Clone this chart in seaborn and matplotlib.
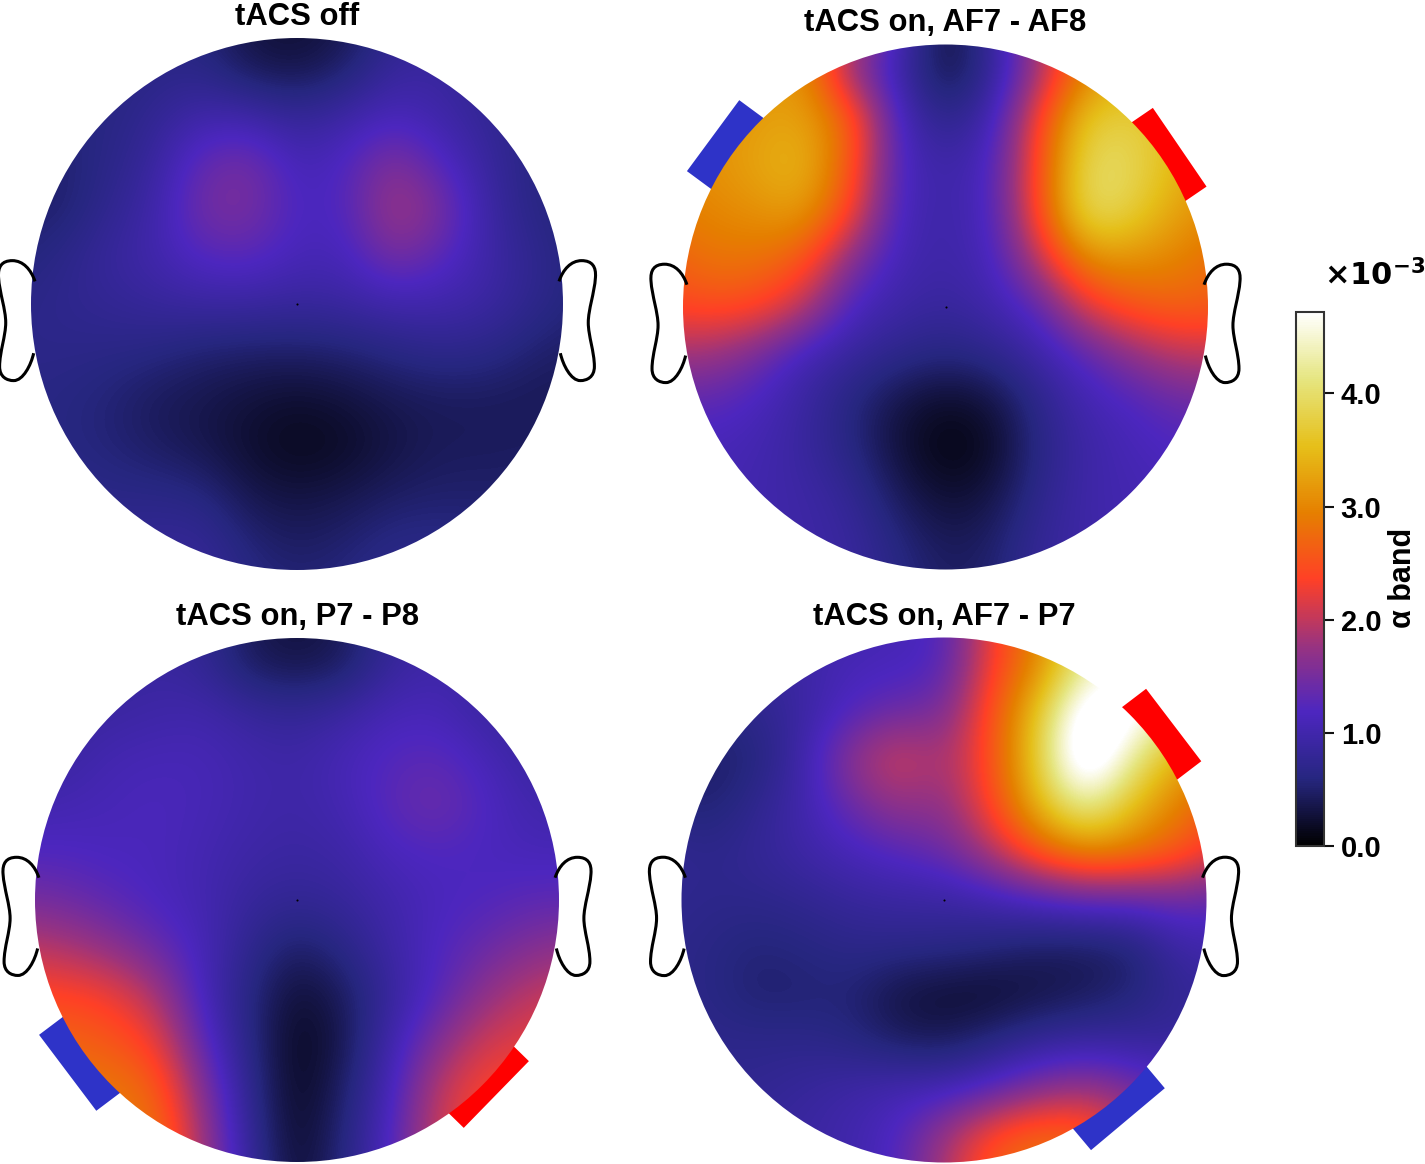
import matplotlib
matplotlib.use("Agg")
import numpy as np
import seaborn as sns
import matplotlib.pyplot as plt
from matplotlib.patches import Circle, PathPatch, Rectangle
from matplotlib.path import Path
from matplotlib.transforms import Affine2D

# alpha band power, units of 1e-3, rows run front to back of the head
tacs_off = [
    [.60, .60, .60, .65, .60, .30, .25, .35, .70, .75, .70, .60, .60],
    [.60, .60, .60, .65, .65, .35, .28, .45, .85, .90, .75, .65, .60],
    [.55, .60, .62, .75, .95, .90, .75, .90, 1.1, .95, .78, .65, .60],
    [.50, .50, .65, .85, 1.35, 1.5, 1.05, 1.2, 1.6, 1.2, .85, .62, .55],
    [.50, .48, .72, .95, 1.5, 1.55, 1.15, 1.2, 1.85, 1.55, .90, .62, .55],
    [.55, .65, .85, 1.0, 1.25, 1.3, 1.1, 1.1, 1.55, 1.3, .95, .72, .55],
    [.65, .72, .78, .85, .90, .90, .85, .90, 1.0, 1.0, .92, .70, .55],
    [.68, .68, .66, .62, .52, .48, .48, .52, .62, .70, .66, .50, .45],
    [.65, .62, .55, .42, .36, .28, .22, .28, .38, .42, .42, .40, .40],
    [.65, .62, .56, .46, .36, .22, .12, .18, .32, .42, .42, .45, .45],
    [.70, .70, .66, .66, .62, .36, .30, .36, .46, .50, .50, .50, .50],
    [.75, .75, .75, .80, .82, .55, .45, .52, .66, .66, .60, .55, .55],
    [.75, .75, .75, .80, .85, .65, .55, .62, .72, .66, .60, .55, .55],
]
tacs_af7_af8 = [
    [3.0, 3.0, 3.0, 3.0, 2.2, 1.2, .22, .85, 2.0, 3.0, 3.3, 3.3, 3.2],
    [3.0, 3.0, 3.1, 3.2, 1.6, .95, .25, .75, 1.8, 3.0, 3.4, 3.4, 3.3],
    [3.0, 3.1, 3.2, 3.3, 2.7, 1.1, .65, 1.0, 2.4, 3.7, 3.75, 3.5, 3.3],
    [3.0, 3.1, 3.3, 3.5, 2.6, 1.15, .95, 1.15, 2.5, 4.0, 3.9, 3.4, 3.2],
    [2.9, 3.0, 3.1, 3.25, 2.4, 1.1, .95, 1.15, 2.5, 4.05, 3.75, 3.2, 3.0],
    [2.6, 2.85, 2.85, 2.6, 1.6, 1.05, .95, 1.1, 2.0, 3.1, 3.1, 2.95, 2.7],
    [2.4, 2.5, 2.45, 2.0, 1.15, .95, .85, 1.0, 1.3, 2.2, 2.6, 2.7, 2.6],
    [1.8, 1.8, 1.5, 1.05, .85, .70, .60, .70, .95, 1.3, 1.7, 2.0, 2.0],
    [1.3, 1.3, 1.15, .90, .60, .32, .18, .28, .70, 1.05, 1.2, 1.4, 1.4],
    [1.1, 1.1, 1.05, .88, .62, .26, .06, .16, .65, .95, 1.1, 1.2, 1.2],
    [1.1, 1.1, 1.0, .95, .80, .42, .22, .32, .72, .98, 1.05, 1.1, 1.1],
    [1.1, 1.1, 1.0, .95, .88, .60, .40, .48, .82, .95, 1.05, 1.1, 1.1],
    [1.1, 1.1, 1.0, .95, .88, .65, .45, .52, .82, .95, 1.05, 1.1, 1.1],
]
tacs_p7_p8 = [
    [.80, .80, .80, .80, .80, .40, .28, .40, .85, .90, .85, .80, .80],
    [.80, .80, .85, .90, .80, .42, .32, .42, .85, 1.0, .90, .85, .80],
    [.85, .85, .90, .95, 1.0, .85, .78, .90, 1.1, 1.1, .90, .85, .85],
    [.90, .90, 1.05, 1.1, 1.1, 1.0, .95, 1.1, 1.25, 1.3, 1.1, .90, .90],
    [1.0, 1.05, 1.1, 1.15, 1.1, 1.0, .95, 1.05, 1.3, 1.45, 1.2, 1.0, 1.0],
    [1.2, 1.2, 1.15, 1.15, 1.05, .95, .90, .95, 1.15, 1.2, 1.15, 1.1, 1.1],
    [1.5, 1.45, 1.3, 1.15, 1.05, .85, .78, .85, 1.0, 1.15, 1.2, 1.3, 1.3],
    [2.0, 1.9, 1.7, 1.4, 1.1, .72, .45, .65, .95, 1.2, 1.4, 1.6, 1.7],
    [2.4, 2.4, 2.3, 1.9, 1.1, .60, .22, .42, .85, 1.25, 1.7, 2.0, 2.1],
    [2.7, 2.7, 2.6, 2.3, 1.3, .62, .12, .36, 1.0, 1.6, 2.1, 2.2, 2.3],
    [2.9, 2.9, 2.9, 2.7, 1.6, .70, .12, .48, 1.1, 2.0, 2.4, 2.4, 2.4],
    [2.9, 2.9, 2.9, 2.9, 1.8, .78, .15, .58, 1.2, 2.1, 2.4, 2.4, 2.4],
    [2.9, 2.9, 2.9, 2.9, 1.8, .85, .20, .62, 1.2, 2.1, 2.4, 2.4, 2.4],
]
tacs_af7_p7 = [
    [.80, .80, .85, .95, 1.0, 1.1, 1.2, 2.3, 3.0, 4.2, 4.6, 4.6, 4.4],
    [.80, .80, .85, .95, 1.1, 1.1, 1.2, 2.3, 3.0, 4.2, 4.8, 4.6, 4.4],
    [.70, .65, .70, .90, 1.2, 1.4, 1.5, 2.5, 3.6, 5.2, 5.0, 4.2, 3.8],
    [.60, .45, .55, .95, 1.7, 2.15, 1.8, 2.5, 3.75, 5.5, 4.2, 3.3, 3.0],
    [.60, .50, .72, 1.0, 1.4, 1.75, 1.65, 2.4, 3.5, 4.4, 3.5, 2.9, 2.5],
    [.80, .70, .80, .95, 1.1, 1.25, 1.4, 1.9, 2.6, 3.0, 2.9, 2.6, 2.1],
    [.75, .70, .70, .75, .85, .90, .90, 1.0, 1.15, 1.3, 1.3, 1.4, 1.3],
    [.70, .65, .55, .60, .68, .68, .66, .58, .45, .42, .50, .95, 1.0],
    [.70, .65, .50, .52, .55, .30, .22, .20, .30, .40, .55, .80, .80],
    [.70, .70, .70, .70, .62, .45, .40, .60, .80, .88, .85, .85, .85],
    [.75, .75, .75, .85, .95, 1.05, 1.05, 1.25, 1.6, 1.8, 1.5, 1.2, 1.0],
    [.80, .80, .85, .90, 1.0, 1.2, 1.8, 2.5, 2.8, 2.7, 2.1, 1.5, 1.2],
    [.80, .80, .85, .90, 1.0, 1.2, 1.9, 2.6, 2.9, 2.7, 2.1, 1.5, 1.2],
]

titles = ["tACS off", "tACS on, AF7 - AF8", "tACS on, P7 - P8", "tACS on, AF7 - P7"]
panels = [tacs_off, tacs_af7_af8, tacs_p7_p8, tacs_af7_p7]
vmax = 4.72
cb_ticks = [0, 1, 2, 3, 4]

# head centre and radius in pixels, title centre
centers = [(297, 304), (945.5, 307), (297, 900), (944, 900)]
radii = [266, 262.5, 262, 262.5]
title_pos = [(297, 17), (945, 23), (297, 617), (944, 617)]

# electrode pads: angle around the head, outer radius, length
pad_blue = [None, (143.6, 1.10, .336), (217, 1.096, .363), (-50, 1.09, .367)]
pad_red = [None, (34.3, 1.08, .363), (-44.3, 1.063, .356), (37.3, 1.10, .347)]

W, H = 1425, 1164
CELL = .18
HALF = 1.17
LIM = 1.3

sns.set_style("white")
plt.rcParams["font.family"] = ["Liberation Sans", "DejaVu Sans"]
plt.rcParams["font.weight"] = "bold"
plt.rcParams["text.color"] = "black"
plt.rcParams["ytick.labelcolor"] = "black"
cmap = sns.color_palette("CMRmap", as_cmap=True)

fig = plt.figure(figsize=(W / 100, H / 100), dpi=100)
cax = fig.add_axes([1296 / W, 1 - 846 / H, 28 / W, 534 / H])


def ear_path(sign):
    verts = [(.985, .085), (1.0, .13), (1.03, .163), (1.07, .163),
             (1.11, .163), (1.125, .14), (1.122, .10),
             (1.118, .04), (1.095, -.02), (1.095, -.07),
             (1.095, -.12), (1.118, -.18), (1.118, -.235),
             (1.118, -.275), (1.09, -.288), (1.065, -.288),
             (1.03, -.288), (1.0, -.23), (.99, -.185)]
    codes = [Path.MOVETO] + [Path.CURVE4] * 18
    return Path([(sign * x, y) for x, y in verts], codes)


def draw_pad(ax, unit, pad, color):
    angle, outer, length = pad
    thick = .15
    rect = Rectangle((outer - thick, -length / 2), thick, length, color=color, lw=0, zorder=1)
    rect.set_transform(Affine2D().rotate_deg(angle) + unit)
    ax.add_patch(rect)


cb = None
for i, values in enumerate(panels):
    cx, cy = centers[i]
    r = radii[i]
    ax = fig.add_axes([(cx - LIM * r) / W, 1 - (cy + LIM * r) / H, 2 * LIM * r / W, 2 * LIM * r / H])
    n = len(values)
    sns.heatmap(values, ax=ax, cmap=cmap, vmin=0, vmax=vmax, cbar=(i == 0), cbar_ax=cax if i == 0 else None,
                xticklabels=False, yticklabels=False)
    mesh = ax.collections[0]
    if i == 0:
        cb = mesh.colorbar
    mesh.set_visible(False)

    # smooth the coarse grid, same cell coordinates as the heatmap
    im = ax.imshow(values, extent=(0, n, n, 0), cmap=cmap, vmin=0, vmax=vmax,
                   interpolation="bicubic", aspect="auto", zorder=2)
    ax.set_xlim((HALF - LIM) / CELL, (HALF + LIM) / CELL)
    ax.set_ylim((HALF + LIM) / CELL, (HALF - LIM) / CELL)
    ax.axis("off")

    unit = Affine2D().scale(1 / CELL, -1 / CELL).translate(HALF / CELL, HALF / CELL) + ax.transData
    im.set_clip_path(Circle((0, 0), 1, transform=unit))

    for sign in (-1, 1):
        ax.add_patch(PathPatch(ear_path(sign), fc="none", ec="black", lw=2.2, transform=unit, zorder=3))
    ax.plot([0], [0], marker="o", ms=1.5, color="black", mew=0, transform=unit, zorder=3)

    if pad_blue[i] is not None:
        draw_pad(ax, unit, pad_blue[i], "#2e33c8")
        draw_pad(ax, unit, pad_red[i], "#ff0000")

    fig.text(title_pos[i][0] / W, 1 - title_pos[i][1] / H, titles[i], ha="center", va="center",
             fontsize=22.3, fontweight="bold", color="black")

cb.set_ticks(cb_ticks)
cb.set_ticklabels([f"{t:.1f}" for t in cb_ticks])
cax.tick_params(axis="y", length=7, width=1.5, labelsize=21, pad=5, right=True, color="#111111", labelcolor="black")
cb.outline.set_visible(True)
cb.outline.set_edgecolor("#333333")
cb.outline.set_linewidth(1.5)
fig.text(1403 / W, 1 - 578 / H, "α band", rotation=90, ha="center", va="center", fontsize=22, fontweight="bold")
fig.text(1375 / W, 1 - 275 / H, r"$\mathbf{\times 10^{-3}}$", ha="center", va="center", fontsize=22,
         family="DejaVu Sans", math_fontfamily="dejavusans")

fig.savefig("out.png", dpi=100)
